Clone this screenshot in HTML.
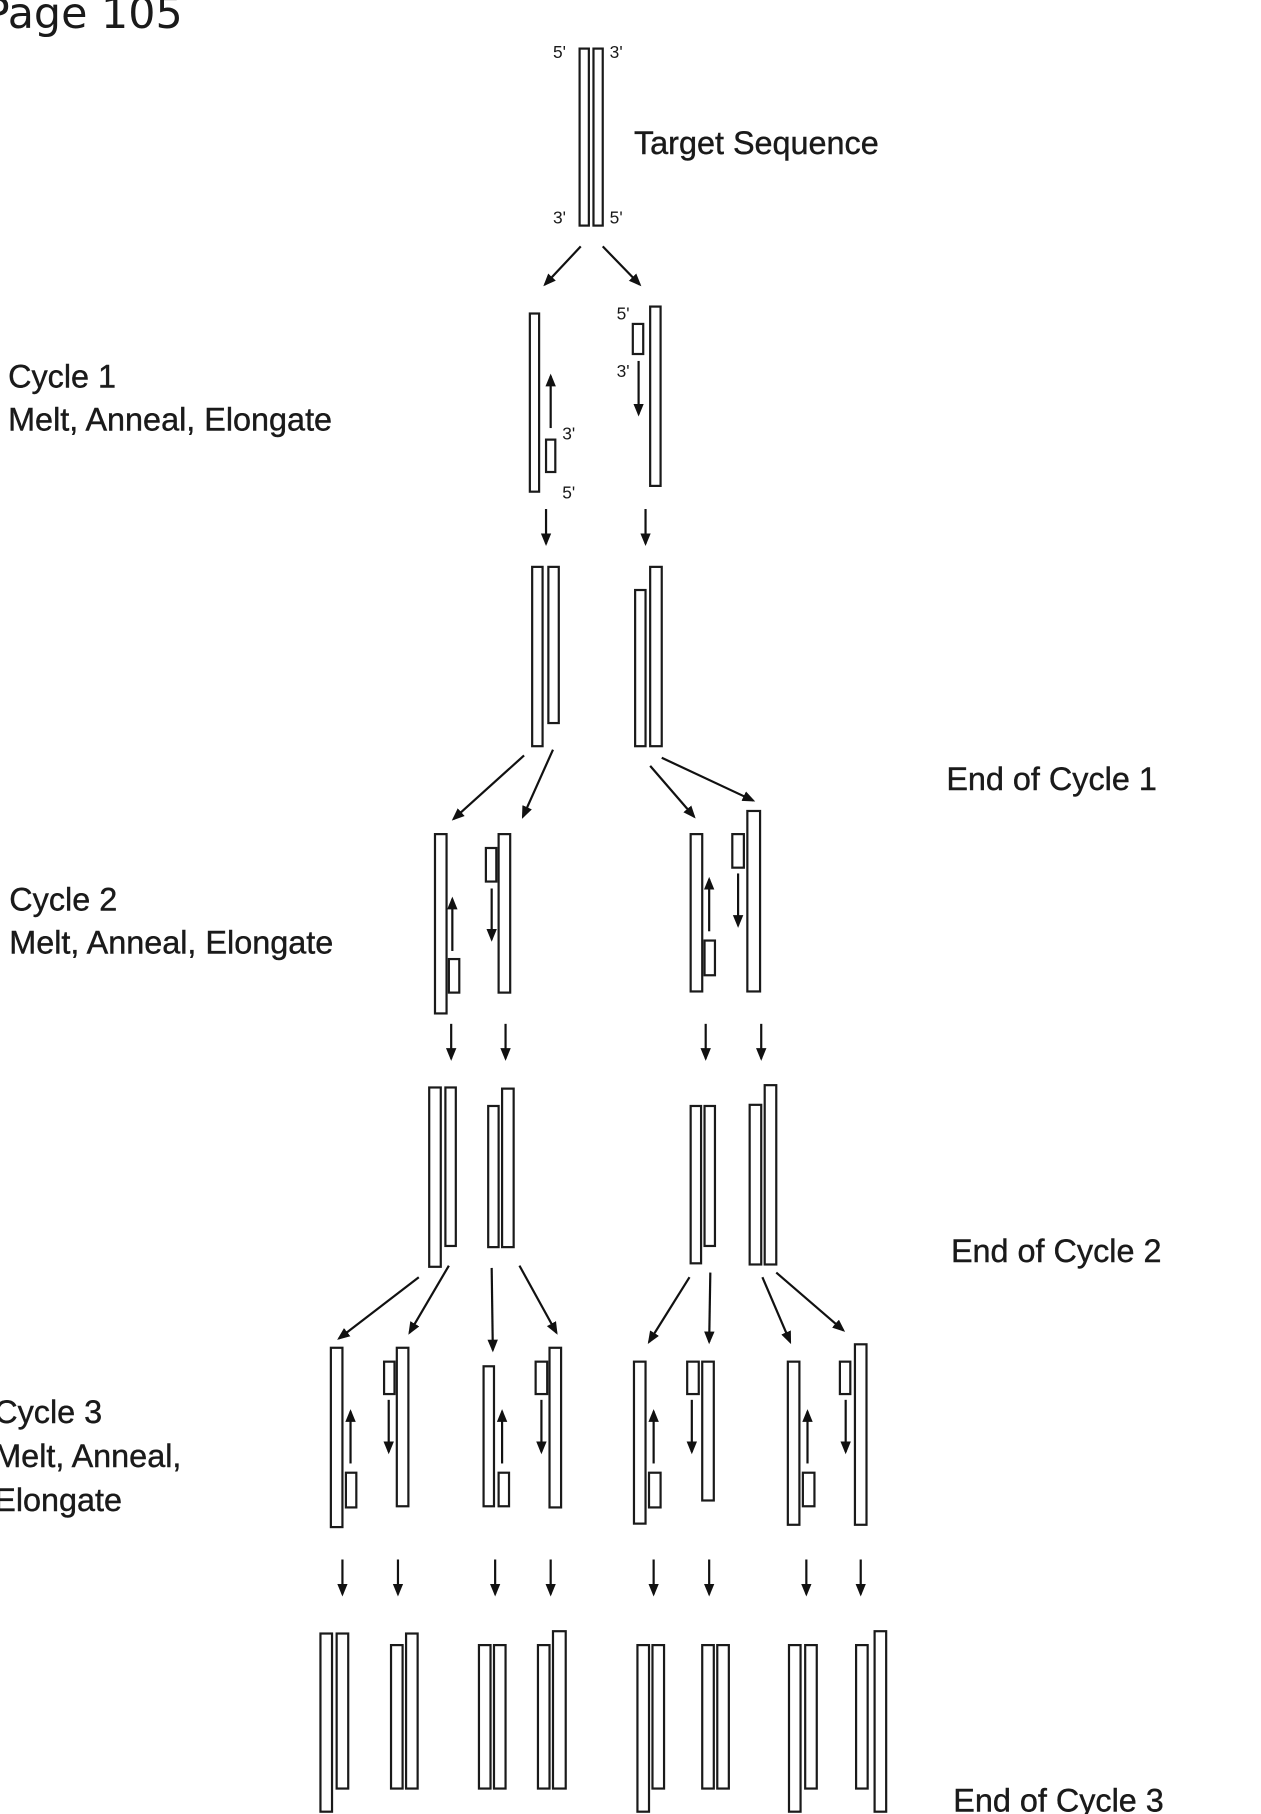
<!DOCTYPE html>
<html><head><style>
html,body{margin:0;padding:0;background:#fff;overflow:hidden}
svg{display:block}
text{font-family:"Liberation Sans",sans-serif;fill:#1a1a1a}
.s rect{fill:#fff;stroke:#1a1a1a;stroke-width:1.9}
.a line{stroke:#111;stroke-width:1.9;marker-end:url(#ah)}
.lab{font-size:28px;stroke:#1a1a1a;stroke-width:0.35}
.pr{font-size:15px}
</style></head><body>
<svg width="1261" height="1814" viewBox="0 0 1090 1568" preserveAspectRatio="none" xmlns="http://www.w3.org/2000/svg">
<defs><marker id="ah" markerWidth="12" markerHeight="12" refX="9" refY="5.5" orient="auto" markerUnits="userSpaceOnUse"><path d="M0,1 L11,5.5 L0,10 Z" fill="#111"/></marker></defs>
<text x="-14" y="24" style="font-family:'DejaVu Sans',sans-serif;font-size:37px" fill="#000">Page 105</text>
<text x="548" y="133" class="lab">Target Sequence</text>
<text x="7" y="335" class="lab">Cycle 1</text>
<text x="7" y="372" class="lab">Melt, Anneal, Elongate</text>
<text x="818" y="683" class="lab">End of Cycle 1</text>
<text x="8" y="787" class="lab">Cycle 2</text>
<text x="8" y="824" class="lab">Melt, Anneal, Elongate</text>
<text x="822" y="1091" class="lab">End of Cycle 2</text>
<text x="-5" y="1230" class="lab">Cycle 3</text>
<text x="-5" y="1268" class="lab">Melt, Anneal,</text>
<text x="-5" y="1306" class="lab">Elongate</text>
<text x="824" y="1566" class="lab">End of Cycle 3</text>
<g class="pr"><text x="478" y="50">5'</text><text x="527" y="50">3'</text><text x="478" y="193">3'</text><text x="527" y="193">5'</text>
<text x="486" y="380">3'</text><text x="486" y="431">5'</text><text x="533" y="276">5'</text><text x="533" y="326">3'</text></g>
<g class="s">
<rect x="501" y="42" width="8" height="153"/><rect x="513" y="42" width="8" height="153"/>
<rect x="458" y="271" width="8" height="154"/><rect x="472" y="380" width="8" height="28"/>
<rect x="562" y="265" width="9" height="155"/><rect x="547" y="280" width="9" height="26"/>
<rect x="460" y="490" width="9" height="155"/><rect x="474" y="490" width="9" height="135"/>
<rect x="549" y="510" width="9" height="135"/><rect x="562" y="490" width="10" height="155"/>
<rect x="376" y="721" width="10" height="155"/><rect x="388" y="829" width="9" height="29"/>
<rect x="431" y="721" width="10" height="137"/><rect x="420" y="733" width="9" height="29"/>
<rect x="597" y="721" width="10" height="136"/><rect x="609" y="813" width="9" height="30"/>
<rect x="646" y="701" width="11" height="156"/><rect x="633" y="721" width="10" height="29"/>
<rect x="371" y="940" width="10" height="155"/><rect x="385" y="940" width="9" height="137"/>
<rect x="422" y="956" width="9" height="122"/><rect x="434" y="941" width="10" height="137"/>
<rect x="597" y="956" width="9" height="136"/><rect x="609" y="956" width="9" height="121"/>
<rect x="648" y="955" width="10" height="138"/><rect x="661" y="938" width="10" height="155"/>
<rect x="286" y="1165" width="10" height="155"/><rect x="299" y="1273" width="9" height="30"/>
<rect x="343" y="1165" width="10" height="137"/><rect x="332" y="1177" width="9" height="28"/>
<rect x="418" y="1181" width="9" height="121"/><rect x="431" y="1273" width="9" height="29"/>
<rect x="475" y="1165" width="10" height="138"/><rect x="463" y="1177" width="10" height="28"/>
<rect x="548" y="1177" width="10" height="140"/><rect x="561" y="1273" width="10" height="30"/>
<rect x="607" y="1177" width="10" height="120"/><rect x="594" y="1177" width="10" height="28"/>
<rect x="681" y="1177" width="10" height="141"/><rect x="694" y="1273" width="10" height="29"/>
<rect x="739" y="1162" width="10" height="156"/><rect x="726" y="1177" width="9" height="28"/>
<rect x="277" y="1412" width="10" height="154"/><rect x="291" y="1412" width="10" height="134"/>
<rect x="338" y="1422" width="10" height="124"/><rect x="351" y="1412" width="10" height="134"/>
<rect x="414" y="1422" width="10" height="124"/><rect x="427" y="1422" width="10" height="124"/>
<rect x="465" y="1422" width="10" height="124"/><rect x="478" y="1410" width="11" height="136"/>
<rect x="551" y="1422" width="10" height="144"/><rect x="564" y="1422" width="10" height="124"/>
<rect x="607" y="1422" width="10" height="124"/><rect x="620" y="1422" width="10" height="124"/>
<rect x="682" y="1422" width="10" height="144"/><rect x="696" y="1422" width="10" height="124"/>
<rect x="740" y="1422" width="10" height="124"/><rect x="756" y="1410" width="10" height="156"/>
</g>
<g class="a">
<line x1="502" y1="213" x2="471" y2="246"/><line x1="521" y1="213" x2="553" y2="246"/>
<line x1="476" y1="370" x2="476" y2="325"/><line x1="552" y1="312" x2="552" y2="358"/>
<line x1="472" y1="440" x2="472" y2="470"/><line x1="558" y1="440" x2="558" y2="470"/>
<line x1="453" y1="653" x2="392" y2="708"/><line x1="478" y1="648" x2="452" y2="706"/>
<line x1="562" y1="662" x2="600" y2="706"/><line x1="572" y1="655" x2="651" y2="692"/>
<line x1="391" y1="822" x2="391" y2="777"/><line x1="425" y1="768" x2="425" y2="812"/>
<line x1="613" y1="805" x2="613" y2="760"/><line x1="638" y1="755" x2="638" y2="800"/>
<line x1="390" y1="885" x2="390" y2="915"/><line x1="437" y1="885" x2="437" y2="915"/>
<line x1="610" y1="885" x2="610" y2="915"/><line x1="658" y1="885" x2="658" y2="915"/>
<line x1="362" y1="1104" x2="293" y2="1157"/><line x1="388" y1="1094" x2="354" y2="1152"/>
<line x1="425" y1="1096" x2="426" y2="1167"/><line x1="449" y1="1094" x2="481" y2="1152"/>
<line x1="596" y1="1104" x2="561" y2="1160"/><line x1="614" y1="1100" x2="613" y2="1160"/>
<line x1="659" y1="1104" x2="683" y2="1160"/><line x1="671" y1="1100" x2="729" y2="1150"/>
<line x1="303" y1="1265" x2="303" y2="1220"/><line x1="336" y1="1210" x2="336" y2="1255"/>
<line x1="434" y1="1265" x2="434" y2="1220"/><line x1="468" y1="1210" x2="468" y2="1255"/>
<line x1="565" y1="1265" x2="565" y2="1220"/><line x1="598" y1="1210" x2="598" y2="1255"/>
<line x1="698" y1="1265" x2="698" y2="1220"/><line x1="731" y1="1210" x2="731" y2="1255"/>
<line x1="296" y1="1348" x2="296" y2="1378"/><line x1="344" y1="1348" x2="344" y2="1378"/>
<line x1="428" y1="1348" x2="428" y2="1378"/><line x1="476" y1="1348" x2="476" y2="1378"/>
<line x1="565" y1="1348" x2="565" y2="1378"/><line x1="613" y1="1348" x2="613" y2="1378"/>
<line x1="697" y1="1348" x2="697" y2="1378"/><line x1="744" y1="1348" x2="744" y2="1378"/>
</g>
</svg>
</body></html>
